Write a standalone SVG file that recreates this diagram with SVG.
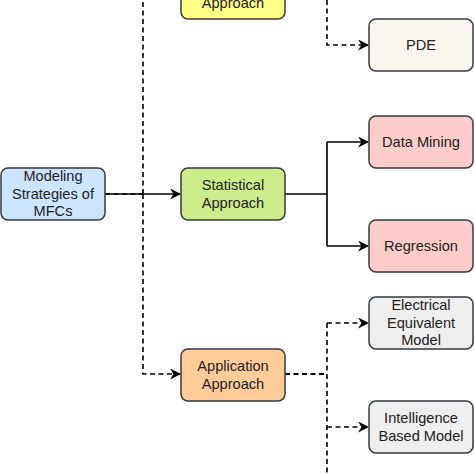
<svg xmlns="http://www.w3.org/2000/svg" width="474" height="474" viewBox="0 0 474 474">
<style>
.box{stroke:#36393d;stroke-width:1.5}
.t{font-family:"Liberation Sans",Arial,sans-serif;font-size:14.6px;fill:#222;text-anchor:middle}
.e{fill:none;stroke:#000;stroke-width:1.6}
.d{stroke-dasharray:5 3.5}
</style>
<defs>
<marker id="a" viewBox="0 0 10 10" refX="9" refY="5" markerWidth="11" markerHeight="11" markerUnits="userSpaceOnUse" orient="auto">
<path d="M0,0 L10,5 L0,10 L3,5 z" fill="#000"/>
</marker>
</defs>
<g id="connectors">
<path class="e" d="M105,194 H180" marker-end="url(#a)"/>
<path class="e d" d="M105,194 H143 M143,194 V0"/>
<path class="e d" d="M143,194 V374 H180" marker-end="url(#a)"/>
<path class="e" d="M285,194 H327 M327,142 V246"/>
<path class="e" d="M327,142 H368" marker-end="url(#a)"/>
<path class="e" d="M327,246 H368" marker-end="url(#a)"/>
<path class="e d" d="M327,0 V45 H368" marker-end="url(#a)"/>
<path class="e d" d="M285,374 H327" style="stroke-width:2.2"/>
<path class="e d" d="M327,323 V474"/>
<path class="e d" d="M327,323 H368" marker-end="url(#a)"/>
<path class="e d" d="M327,427 H368" marker-end="url(#a)"/>
</g>
<g id="modeling">
<rect class="box" x="1" y="168" width="104" height="52" rx="7" fill="#cce5ff"/>
<text class="t" x="53" y="181">Modeling</text>
<text class="t" x="53" y="198.5">Strategies of</text>
<text class="t" x="53" y="216">MFCs</text>
</g>
<g id="mechanistic">
<rect class="box" x="181" y="-33" width="104" height="52" rx="7" fill="#ffff88"/>
<text class="t" x="233" y="8">Approach</text>
</g>
<g id="statistical">
<rect class="box" x="181" y="168" width="104" height="52" rx="7" fill="#cdeb8b"/>
<text class="t" x="233" y="190">Statistical</text>
<text class="t" x="233" y="208">Approach</text>
</g>
<g id="application">
<rect class="box" x="181" y="349" width="104" height="52" rx="7" fill="#ffcc99"/>
<text class="t" x="233" y="371">Application</text>
<text class="t" x="233" y="389">Approach</text>
</g>
<g id="pde">
<rect class="box" x="369" y="19" width="104" height="52" rx="7" fill="#f9f7ed"/>
<text class="t" x="421" y="50">PDE</text>
</g>
<g id="datamining">
<rect class="box" x="369" y="116" width="104" height="52" rx="7" fill="#ffcccc"/>
<text class="t" x="421" y="147">Data Mining</text>
</g>
<g id="regression">
<rect class="box" x="369" y="220" width="104" height="52" rx="7" fill="#ffcccc"/>
<text class="t" x="421" y="251">Regression</text>
</g>
<g id="electrical">
<rect class="box" x="369" y="297" width="104" height="52" rx="7" fill="#eeeeee"/>
<text class="t" x="421" y="310">Electrical</text>
<text class="t" x="421" y="327.5">Equivalent</text>
<text class="t" x="421" y="345">Model</text>
</g>
<g id="intelligence">
<rect class="box" x="369" y="401" width="104" height="52" rx="7" fill="#eeeeee"/>
<text class="t" x="421" y="423">Intelligence</text>
<text class="t" x="421" y="441">Based Model</text>
</g>
</svg>
